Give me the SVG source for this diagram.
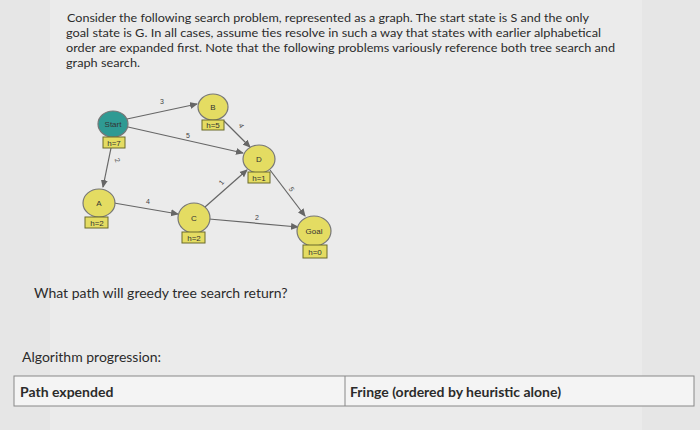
<svg xmlns="http://www.w3.org/2000/svg" width="700" height="430" viewBox="0 0 700 430">
<defs>
<marker id="ar" markerWidth="8" markerHeight="8" refX="7" refY="4" orient="auto" markerUnits="userSpaceOnUse"><path d="M0,0.5 L8,4 L0,7.5 z" fill="#666"/></marker>
<style>
.t{font-family:Lato,"Open Sans",sans-serif;fill:#2b2b2b}
.n{stroke:#777;stroke-width:1.2}
.y{fill:#e4dc62}
.hb{fill:#e4dc62;stroke:#6b6b2a;stroke-width:1}
.nl{font-family:"Liberation Sans",Arial,sans-serif;font-size:8px;fill:#333;text-anchor:middle}
.el{font-family:"Liberation Sans",Arial,sans-serif;font-size:7px;fill:#444;text-anchor:middle}
.e{stroke:#666;stroke-width:1.2;fill:none;marker-end:url(#ar)}
</style>
</defs>
<rect width="700" height="430" fill="#e6e6e6"/>
<rect x="50" y="0" width="592" height="430" fill="#ebebeb"/>
<g class="t" font-size="11.5">
<text x="67" y="22" textLength="522" lengthAdjust="spacingAndGlyphs">Consider the following search problem, represented as a graph. The start state is S and the only</text>
<text x="66" y="37" textLength="535" lengthAdjust="spacingAndGlyphs">goal state is G. In all cases, assume ties resolve in such a way that states with earlier alphabetical</text>
<text x="66" y="52" textLength="549" lengthAdjust="spacingAndGlyphs">order are expanded first. Note that the following problems variously reference both tree search and</text>
<text x="66" y="67" textLength="74" lengthAdjust="spacingAndGlyphs">graph search.</text>
</g>
<g id="edges">
<line class="e" x1="127" y1="119" x2="197" y2="104"/>
<line class="e" x1="128" y1="127" x2="243" y2="153"/>
<line class="e" x1="224" y1="121" x2="250" y2="147"/>
<line class="e" x1="111" y1="148" x2="103" y2="187"/>
<line class="e" x1="114" y1="203" x2="178" y2="214"/>
<line class="e" x1="205" y1="207" x2="247" y2="170"/>
<line class="e" x1="209" y1="219" x2="298" y2="227"/>
<line class="e" x1="270" y1="170" x2="305" y2="216"/>
<text class="el" x="162" y="104">3</text>
<text class="el" x="188" y="138">5</text>
<text class="el" x="241" y="128" transform="rotate(60 241 126)">4</text>
<text class="el" x="118" y="163" transform="rotate(70 118 160)">2</text>
<text class="el" x="148" y="204">4</text>
<text class="el" x="221" y="185" transform="rotate(-50 221 182)">1</text>
<text class="el" x="257" y="220">2</text>
<text class="el" x="292" y="192" transform="rotate(60 292 189)">5</text>
</g>
<g id="Start"><ellipse class="n" cx="113" cy="124" rx="15" ry="13" fill="#2f9a93"/><rect class="hb" x="103" y="137" width="22" height="11"/><text class="nl" x="113" y="127" font-size="7">Start</text><text class="nl" x="114" y="146">h=7</text></g>
<g id="B"><ellipse class="n y" cx="213" cy="107" rx="15" ry="13"/><rect class="hb" x="202" y="120" width="22" height="10"/><text class="nl" x="213" y="110" font-size="7">B</text><text class="nl" x="213" y="128">h=5</text></g>
<g id="D"><ellipse class="n y" cx="259" cy="159" rx="16" ry="14"/><rect class="hb" x="248" y="172" width="22" height="11"/><text class="nl" x="259" y="162">D</text><text class="nl" x="259" y="181">h=1</text></g>
<g id="A"><ellipse class="n y" cx="99" cy="203" rx="16" ry="14"/><rect class="hb" x="85" y="217" width="23" height="11"/><text class="nl" x="99" y="206">A</text><text class="nl" x="97" y="226">h=2</text></g>
<g id="C"><ellipse class="n y" cx="194" cy="218" rx="16" ry="15"/><rect class="hb" x="182" y="232" width="23" height="11"/><text class="nl" x="194" y="221">C</text><text class="nl" x="194" y="241">h=2</text></g>
<g id="Goal"><ellipse class="n y" cx="314" cy="231" rx="17" ry="15"/><rect class="hb" x="303" y="245" width="24" height="13"/><text class="nl" x="314" y="234">Goal</text><text class="nl" x="315" y="255">h=0</text></g>
<text class="t" x="34" y="298" font-size="14">What path will greedy tree search return?</text>
<text class="t" x="22" y="362" font-size="14">Algorithm progression:</text>
<rect x="14" y="376" width="680" height="30" fill="#f4f4f4" stroke="#888"/>
<line x1="345" y1="376" x2="345" y2="406" stroke="#888"/>
<text class="t" x="20" y="397" font-size="14" font-weight="bold" fill="#222">Path expended</text>
<text class="t" x="350" y="397" font-size="14" font-weight="bold" fill="#222">Fringe (ordered by heuristic alone)</text>
</svg>
